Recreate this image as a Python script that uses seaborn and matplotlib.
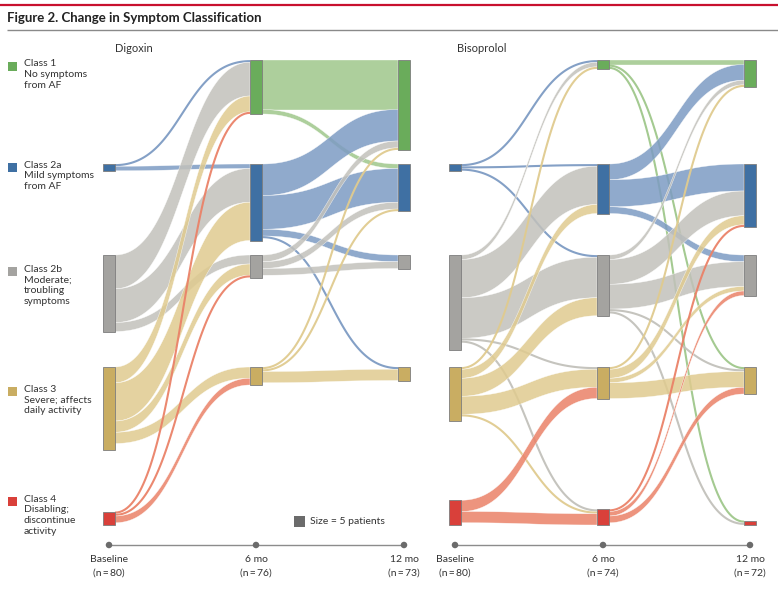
import numpy as np
import seaborn as sns
import matplotlib.pyplot as plt
from matplotlib.patches import Rectangle

# ---- data -------------------------------------------------------------
classes = ['1', '2a', '2b', '3', '4']
class_names = ['Class 1', 'Class 2a', 'Class 2b', 'Class 3', 'Class 4']
class_desc = ['No symptoms\nfrom AF', 'Mild symptoms\nfrom AF',
              'Moderate;\ntroubling\nsymptoms', 'Severe; affects\ndaily activity',
              'Disabling;\ndiscontinue\nactivity']
time_labels = ['Baseline', '6 mo', '12 mo']

# patients per class at each visit
dig_base = [0, 3, 34, 37, 6]
dig_6mo = [24, 34, 10, 8, 0]
dig_12mo = [40, 21, 6, 6, 0]
bis_base = [0, 3, 42, 24, 11]
bis_6mo = [4, 22, 27, 14, 7]
bis_12mo = [12, 28, 18, 12, 2]

# transitions: rows = class at earlier visit, cols = class at later visit
dig_base_6mo = [[0, 0, 0, 0, 0],
                [1, 2, 0, 0, 0],
                [15, 15, 4, 0, 0],
                [7, 17, 5, 5, 0],
                [1, 0, 1, 3, 0]]
dig_6mo_12mo = [[22, 2, 0, 0, 0],
                [14, 15, 3, 1, 0],
                [3, 3, 3, 0, 0],
                [1, 1, 0, 5, 0],
                [0, 0, 0, 0, 0]]
bis_base_6mo = [[0, 0, 0, 0, 0],
                [1, 1, 1, 0, 0],
                [2, 17, 18, 1, 1],
                [1, 4, 8, 8, 1],
                [0, 0, 0, 5, 5]]
bis_6mo_12mo = [[2, 0, 0, 1, 1],
                [7, 12, 3, 0, 0],
                [2, 11, 11, 1, 1],
                [1, 4, 2, 7, 0],
                [0, 1, 2, 3, 0]]

# ---- style ------------------------------------------------------------
sns.set_style('white')
plt.rcParams['font.family'] = ['Lato', 'DejaVu Sans']

node_colors = ['#6aac5b', '#3f70a3', '#a4a3a0', '#c9ad62', '#d9403a']
flow_colors = ['#9fc78b', '#7d9bc3', '#c2c1bb', '#e0cb8f', '#ea8268']
text_color = '#333333'

UNIT = 2.25          # px per patient
NODE_W = 12
row_top = [60, 164, 255, 367]
row4_bottom = 525
AXIS_Y = 545

fig = plt.figure(figsize=(7.78, 5.90), dpi=100)
ax = fig.add_axes([0, 0, 1, 1])
ax.set_xlim(0, 778)
ax.set_ylim(590, 0)
ax.axis('off')


def node_top(cls, count):
    if cls == 4:
        return row4_bottom - count * UNIT
    return row_top[cls]


def draw_panel(name, title_x, cols_x, counts, flows):
    ax.text(title_x, 48, name, fontsize=8, color=text_color, va='center')
    tops = [[node_top(i, c) for i, c in enumerate(cnt)] for cnt in counts]

    # flows
    for t, mat in enumerate(flows):
        mat = np.array(mat)
        x0 = cols_x[t] + NODE_W / 2
        x1 = cols_x[t + 1] - NODE_W / 2
        xm = (x0 + x1) / 2
        out_off = np.zeros(5)
        in_off = np.zeros(5)
        bands = []
        for i in range(5):
            for j in range(5):
                if mat[i, j] > 0:
                    bands.append((i, j, mat[i, j], out_off[i]))
                    out_off[i] += mat[i, j] * UNIT
        arr = {}
        for j in range(5):
            for i in range(5):
                if mat[i, j] > 0:
                    arr[(i, j)] = in_off[j]
                    in_off[j] += mat[i, j] * UNIT
        u = np.linspace(0, 1, 80)
        bx = (1 - u) ** 3 * x0 + 3 * (1 - u) ** 2 * u * xm + 3 * (1 - u) * u ** 2 * xm + u ** 3 * x1
        s = 3 * u ** 2 - 2 * u ** 3
        for i, j, n, off in bands:
            ya = tops[t][i] + off
            yb = tops[t + 1][j] + arr[(i, j)]
            top = ya + (yb - ya) * s
            bot = top + n * UNIT
            if n == 1:
                # single patients are drawn as a line along the middle of the band
                ax.plot(bx, (top + bot) / 2, color=flow_colors[i], lw=1.5,
                        alpha=0.95, zorder=2 + i * 0.1, solid_capstyle='butt')
            else:
                ax.fill(np.r_[bx, bx[::-1]], np.r_[top, bot[::-1]],
                        color=flow_colors[i], alpha=0.85, lw=0.3, ec='white',
                        zorder=2 + i * 0.1)

    # nodes
    for t, cnt in enumerate(counts):
        for i, c in enumerate(cnt):
            if c > 0:
                ax.add_patch(Rectangle((cols_x[t] - NODE_W / 2, tops[t][i]), NODE_W, c * UNIT,
                                       fc=node_colors[i], ec='#7d7d7d', lw=0.6, zorder=5))

    # time axis
    ax.plot([cols_x[0], cols_x[-1]], [AXIS_Y, AXIS_Y], color='#8c8c8c', lw=1, zorder=1)
    sns.scatterplot(x=cols_x, y=[AXIS_Y] * 3, color='#6b6b6b', s=22, ax=ax,
                    edgecolor='none', zorder=3, legend=False)
    for x, lab, cnt in zip(cols_x, time_labels, counts):
        ax.text(x, 560, lab, fontsize=7.5, color=text_color, ha='center', va='center')
        ax.text(x, 573, '(n\u2009=\u2009%d)' % sum(cnt), fontsize=7.5, color=text_color,
                ha='center', va='center')


draw_panel('Digoxin', 115, [109, 256, 404], [dig_base, dig_6mo, dig_12mo],
           [dig_base_6mo, dig_6mo_12mo])
draw_panel('Bisoprolol', 457, [455, 603, 750], [bis_base, bis_6mo, bis_12mo],
           [bis_base_6mo, bis_6mo_12mo])

# header
ax.plot([0, 778], [5, 5], color='#c8102e', lw=1.6, solid_capstyle='butt')
ax.plot([7, 778], [30, 30], color='#8a8a8a', lw=1, solid_capstyle='butt')
ax.text(7, 18, 'Figure 2. Change in Symptom Classification', fontsize=9.5,
        fontweight='bold', color='#222222', va='center')

# class legend
legend_y = [66, 167, 271, 391, 501]
for i, y in enumerate(legend_y):
    ax.add_patch(Rectangle((8, y - 4.5), 9, 9, fc=node_colors[i], ec='none'))
    ax.text(24, y - 6.5, class_names[i] + '\n' + class_desc[i], fontsize=7.5,
            color=text_color, va='top', linespacing=1.25)

# size key
ax.add_patch(Rectangle((294, 516), 5 * UNIT, 5 * UNIT, fc='#6b6b6b', ec='none'))
ax.text(310, 522, 'Size = 5 patients', fontsize=7.5, color=text_color, va='center')

fig.savefig('out.png', dpi=100)
